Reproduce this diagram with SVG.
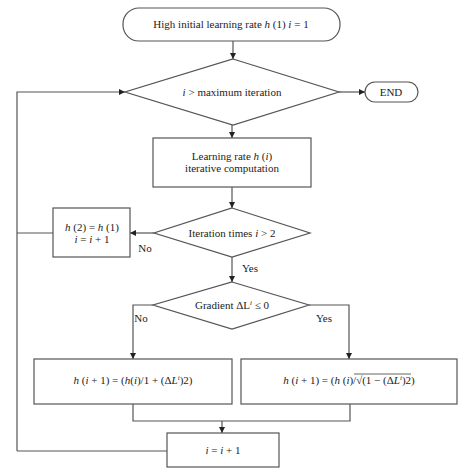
<svg xmlns="http://www.w3.org/2000/svg" width="474" height="474" viewBox="0 0 474 474">
<defs>
<marker id="arr" viewBox="0 0 10 10" refX="10" refY="5" markerWidth="6" markerHeight="6" orient="auto" markerUnits="userSpaceOnUse">
<path d="M0,0 L10,5 L0,10 z" fill="#222"/>
</marker>
<style>
.s{fill:#fff;stroke:#555;stroke-width:1.2}
.t{font-family:"Liberation Serif","Times New Roman",serif;font-size:11px;fill:#222;text-anchor:middle}
.c{fill:none;stroke:#555;stroke-width:1.2}
.ca{fill:none;stroke:#555;stroke-width:1.2;marker-end:url(#arr)}
</style>
</defs>
<rect width="474" height="474" fill="#fff"/>
<g id="connectors">
<path class="ca" d="M233,41 V59"/>
<path class="ca" d="M339,92 H365"/>
<path class="ca" d="M232,125 V138"/>
<path class="ca" d="M232,187 V208"/>
<path class="ca" d="M154,233 H130"/>
<path class="c" d="M53,233 H17"/>
<path class="ca" d="M17,451 V92 H125"/>
<path class="ca" d="M232,257 V282"/>
<path class="ca" d="M153,305 H133 V359"/>
<path class="ca" d="M309,305 H349 V359"/>
<path class="c" d="M133,404 V421 H350 V404"/>
<path class="ca" d="M222,421 V433"/>
<path class="c" d="M167,451 H17"/>
<text class="t" x="145" y="252" text-anchor="middle">No</text>
<text class="t" x="250" y="272">Yes</text>
<text class="t" x="141" y="322">No</text>
<text class="t" x="324" y="322">Yes</text>
</g>
<g id="start">
<rect class="s" x="123" y="8" width="217" height="33" rx="16"/>
<text class="t" x="231" y="28">High initial learning rate <tspan font-style="italic">h</tspan> (1) <tspan font-style="italic">i</tspan> = 1</text>
</g>
<g id="d1">
<polygon class="s" points="233,59 339,92 233,125 125,92"/>
<text class="t" x="232" y="96"><tspan font-style="italic">i</tspan> &gt; maximum iteration</text>
</g>
<g id="end">
<rect class="s" x="365" y="82" width="53" height="20" rx="10"/>
<text class="t" x="391" y="96">END</text>
</g>
<g id="lr">
<rect class="s" x="153" y="138" width="158" height="49"/>
<text class="t" x="232" y="160">Learning rate <tspan font-style="italic">h</tspan> (<tspan font-style="italic">i</tspan>)</text>
<text class="t" x="232" y="172">iterative computation</text>
</g>
<g id="d2">
<polygon class="s" points="232,208 310,233 232,257 154,233"/>
<text class="t" x="232" y="237">Iteration times <tspan font-style="italic">i</tspan> &gt; 2</text>
</g>
<g id="h2">
<rect class="s" x="53" y="208" width="77" height="49"/>
<text class="t" x="92" y="231"><tspan font-style="italic">h</tspan> (2) = <tspan font-style="italic">h</tspan> (1)</text>
<text class="t" x="92" y="243"><tspan font-style="italic">i</tspan> = <tspan font-style="italic">i</tspan> + 1</text>
</g>
<g id="d3">
<polygon class="s" points="232,282 309,305 232,329 153,305"/>
<text class="t" x="232" y="309">Gradient ΔL<tspan font-size="7" dy="-4" font-style="italic">i</tspan><tspan dy="4"> ≤ 0</tspan></text>
</g>
<g id="bl">
<rect class="s" x="34" y="359" width="198" height="45"/>
<text class="t" x="133" y="384"><tspan font-style="italic">h</tspan> (<tspan font-style="italic">i</tspan> + 1) = (<tspan font-style="italic">h</tspan>(<tspan font-style="italic">i</tspan>)/1 + (Δ<tspan font-style="italic">L</tspan><tspan font-size="7" dy="-4" font-style="italic">i</tspan><tspan dy="4">)2)</tspan></text>
</g>
<g id="br">
<rect class="s" x="241" y="359" width="216" height="45"/>
<text class="t" x="349" y="384"><tspan font-style="italic">h</tspan> (<tspan font-style="italic">i</tspan> + 1) = (<tspan font-style="italic">h</tspan> (<tspan font-style="italic">i</tspan>)/√(1 − (Δ<tspan font-style="italic">L</tspan><tspan font-size="7" dy="-4" font-style="italic">i</tspan><tspan dy="4">)2)</tspan></text>
<path d="M354,374 H411" stroke="#222" stroke-width="0.7" fill="none"/>
</g>
<g id="inc">
<rect class="s" x="167" y="433" width="112" height="34"/>
<text class="t" x="223" y="454"><tspan font-style="italic">i</tspan> = <tspan font-style="italic">i</tspan> + 1</text>
</g>
</svg>
